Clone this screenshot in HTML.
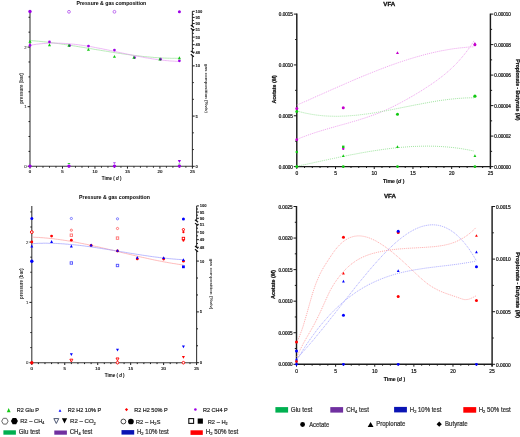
<!DOCTYPE html>
<html><head><meta charset="utf-8"><title>Pressure, gas composition and VFA</title>
<style>html,body{margin:0;padding:0;background:#fff;}body{width:520px;height:437px;overflow:hidden;}svg{display:block;filter:blur(0.35px);}text{fill:#111;stroke:#111;stroke-width:0.25px;}</style>
</head><body>
<svg width="520" height="437" viewBox="0 0 520 437" font-family="'Liberation Sans', Arial, sans-serif">
<rect width="520" height="437" fill="#fff"/>
<text x="111.40" y="4.50" font-size="5.2" text-anchor="middle" font-weight="bold" textLength="69.6" lengthAdjust="spacingAndGlyphs" style="stroke-width:0.05px">Pressure &amp; gas composition</text>
<line x1="30.00" y1="11.30" x2="30.00" y2="166.80" stroke="#3a3a3a" stroke-width="1.1"/>
<line x1="27.60" y1="166.30" x2="30.00" y2="166.30" stroke="#1a1a1a" stroke-width="1.0"/>
<line x1="28.50" y1="151.40" x2="30.00" y2="151.40" stroke="#1a1a1a" stroke-width="1.0"/>
<line x1="28.50" y1="136.49" x2="30.00" y2="136.49" stroke="#1a1a1a" stroke-width="1.0"/>
<line x1="28.50" y1="121.59" x2="30.00" y2="121.59" stroke="#1a1a1a" stroke-width="1.0"/>
<line x1="27.60" y1="106.68" x2="30.00" y2="106.68" stroke="#1a1a1a" stroke-width="1.0"/>
<line x1="28.50" y1="91.78" x2="30.00" y2="91.78" stroke="#1a1a1a" stroke-width="1.0"/>
<line x1="28.50" y1="76.88" x2="30.00" y2="76.88" stroke="#1a1a1a" stroke-width="1.0"/>
<line x1="28.50" y1="61.97" x2="30.00" y2="61.97" stroke="#1a1a1a" stroke-width="1.0"/>
<line x1="27.60" y1="47.07" x2="30.00" y2="47.07" stroke="#1a1a1a" stroke-width="1.0"/>
<line x1="28.50" y1="32.17" x2="30.00" y2="32.17" stroke="#1a1a1a" stroke-width="1.0"/>
<line x1="28.50" y1="17.26" x2="30.00" y2="17.26" stroke="#1a1a1a" stroke-width="1.0"/>
<text x="26.70" y="167.90" font-size="4.3" text-anchor="end" style="fill:#333;stroke:#333;stroke-width:0.1px">0</text>
<text x="26.70" y="108.28" font-size="4.3" text-anchor="end" style="fill:#333;stroke:#333;stroke-width:0.1px">1</text>
<text x="26.70" y="48.67" font-size="4.3" text-anchor="end" style="fill:#333;stroke:#333;stroke-width:0.1px">2</text>
<line x1="29.50" y1="166.30" x2="192.90" y2="166.30" stroke="#3a3a3a" stroke-width="1.1"/>
<line x1="30.00" y1="166.30" x2="30.00" y2="168.60" stroke="#1a1a1a" stroke-width="1.0"/>
<text x="30.00" y="173.00" font-size="4.3" text-anchor="middle" style="fill:#222;stroke:#222;stroke-width:0.2px">0</text>
<line x1="36.50" y1="166.30" x2="36.50" y2="167.70" stroke="#1a1a1a" stroke-width="1.0"/>
<line x1="42.99" y1="166.30" x2="42.99" y2="167.70" stroke="#1a1a1a" stroke-width="1.0"/>
<line x1="49.49" y1="166.30" x2="49.49" y2="167.70" stroke="#1a1a1a" stroke-width="1.0"/>
<line x1="55.98" y1="166.30" x2="55.98" y2="167.70" stroke="#1a1a1a" stroke-width="1.0"/>
<line x1="62.48" y1="166.30" x2="62.48" y2="168.60" stroke="#1a1a1a" stroke-width="1.0"/>
<text x="62.48" y="173.00" font-size="4.3" text-anchor="middle" style="fill:#222;stroke:#222;stroke-width:0.2px">5</text>
<line x1="68.98" y1="166.30" x2="68.98" y2="167.70" stroke="#1a1a1a" stroke-width="1.0"/>
<line x1="75.47" y1="166.30" x2="75.47" y2="167.70" stroke="#1a1a1a" stroke-width="1.0"/>
<line x1="81.97" y1="166.30" x2="81.97" y2="167.70" stroke="#1a1a1a" stroke-width="1.0"/>
<line x1="88.46" y1="166.30" x2="88.46" y2="167.70" stroke="#1a1a1a" stroke-width="1.0"/>
<line x1="94.96" y1="166.30" x2="94.96" y2="168.60" stroke="#1a1a1a" stroke-width="1.0"/>
<text x="94.96" y="173.00" font-size="4.3" text-anchor="middle" style="fill:#222;stroke:#222;stroke-width:0.2px">10</text>
<line x1="101.46" y1="166.30" x2="101.46" y2="167.70" stroke="#1a1a1a" stroke-width="1.0"/>
<line x1="107.95" y1="166.30" x2="107.95" y2="167.70" stroke="#1a1a1a" stroke-width="1.0"/>
<line x1="114.45" y1="166.30" x2="114.45" y2="167.70" stroke="#1a1a1a" stroke-width="1.0"/>
<line x1="120.94" y1="166.30" x2="120.94" y2="167.70" stroke="#1a1a1a" stroke-width="1.0"/>
<line x1="127.44" y1="166.30" x2="127.44" y2="168.60" stroke="#1a1a1a" stroke-width="1.0"/>
<text x="127.44" y="173.00" font-size="4.3" text-anchor="middle" style="fill:#222;stroke:#222;stroke-width:0.2px">15</text>
<line x1="133.94" y1="166.30" x2="133.94" y2="167.70" stroke="#1a1a1a" stroke-width="1.0"/>
<line x1="140.43" y1="166.30" x2="140.43" y2="167.70" stroke="#1a1a1a" stroke-width="1.0"/>
<line x1="146.93" y1="166.30" x2="146.93" y2="167.70" stroke="#1a1a1a" stroke-width="1.0"/>
<line x1="153.42" y1="166.30" x2="153.42" y2="167.70" stroke="#1a1a1a" stroke-width="1.0"/>
<line x1="159.92" y1="166.30" x2="159.92" y2="168.60" stroke="#1a1a1a" stroke-width="1.0"/>
<text x="159.92" y="173.00" font-size="4.3" text-anchor="middle" style="fill:#222;stroke:#222;stroke-width:0.2px">20</text>
<line x1="166.42" y1="166.30" x2="166.42" y2="167.70" stroke="#1a1a1a" stroke-width="1.0"/>
<line x1="172.91" y1="166.30" x2="172.91" y2="167.70" stroke="#1a1a1a" stroke-width="1.0"/>
<line x1="179.41" y1="166.30" x2="179.41" y2="167.70" stroke="#1a1a1a" stroke-width="1.0"/>
<line x1="185.90" y1="166.30" x2="185.90" y2="167.70" stroke="#1a1a1a" stroke-width="1.0"/>
<line x1="192.40" y1="166.30" x2="192.40" y2="168.60" stroke="#1a1a1a" stroke-width="1.0"/>
<text x="192.40" y="173.00" font-size="4.3" text-anchor="middle" style="fill:#222;stroke:#222;stroke-width:0.2px">25</text>
<line x1="192.40" y1="166.80" x2="192.40" y2="55.48" stroke="#3a3a3a" stroke-width="1.1"/>
<line x1="192.40" y1="52.22" x2="192.40" y2="29.59" stroke="#3a3a3a" stroke-width="1.1"/>
<line x1="192.40" y1="26.34" x2="192.40" y2="11.30" stroke="#3a3a3a" stroke-width="1.1"/>
<line x1="190.80" y1="54.18" x2="193.90" y2="56.68" stroke="#111" stroke-width="1.15"/>
<line x1="190.80" y1="50.92" x2="193.90" y2="53.42" stroke="#111" stroke-width="1.15"/>
<line x1="190.80" y1="28.29" x2="193.90" y2="30.79" stroke="#111" stroke-width="1.15"/>
<line x1="190.80" y1="25.04" x2="193.90" y2="27.54" stroke="#111" stroke-width="1.15"/>
<line x1="192.40" y1="166.30" x2="194.70" y2="166.30" stroke="#1a1a1a" stroke-width="1.0"/>
<line x1="192.40" y1="149.56" x2="193.80" y2="149.56" stroke="#1a1a1a" stroke-width="1.0"/>
<line x1="192.40" y1="132.82" x2="193.80" y2="132.82" stroke="#1a1a1a" stroke-width="1.0"/>
<line x1="192.40" y1="116.08" x2="194.70" y2="116.08" stroke="#1a1a1a" stroke-width="1.0"/>
<line x1="192.40" y1="99.34" x2="193.80" y2="99.34" stroke="#1a1a1a" stroke-width="1.0"/>
<line x1="192.40" y1="82.60" x2="193.80" y2="82.60" stroke="#1a1a1a" stroke-width="1.0"/>
<line x1="192.40" y1="65.86" x2="194.70" y2="65.86" stroke="#1a1a1a" stroke-width="1.0"/>
<line x1="192.40" y1="52.22" x2="194.70" y2="52.22" stroke="#1a1a1a" stroke-width="1.0"/>
<line x1="192.40" y1="48.45" x2="193.80" y2="48.45" stroke="#1a1a1a" stroke-width="1.0"/>
<line x1="192.40" y1="44.67" x2="194.70" y2="44.67" stroke="#1a1a1a" stroke-width="1.0"/>
<line x1="192.40" y1="40.90" x2="193.80" y2="40.90" stroke="#1a1a1a" stroke-width="1.0"/>
<line x1="192.40" y1="37.12" x2="194.70" y2="37.12" stroke="#1a1a1a" stroke-width="1.0"/>
<line x1="192.40" y1="33.35" x2="193.80" y2="33.35" stroke="#1a1a1a" stroke-width="1.0"/>
<line x1="192.40" y1="29.57" x2="194.70" y2="29.57" stroke="#1a1a1a" stroke-width="1.0"/>
<line x1="192.40" y1="23.55" x2="194.70" y2="23.55" stroke="#1a1a1a" stroke-width="1.0"/>
<line x1="192.40" y1="20.48" x2="193.80" y2="20.48" stroke="#1a1a1a" stroke-width="1.0"/>
<line x1="192.40" y1="17.42" x2="194.70" y2="17.42" stroke="#1a1a1a" stroke-width="1.0"/>
<line x1="192.40" y1="14.36" x2="193.80" y2="14.36" stroke="#1a1a1a" stroke-width="1.0"/>
<line x1="192.40" y1="11.30" x2="194.70" y2="11.30" stroke="#1a1a1a" stroke-width="1.0"/>
<text x="195.50" y="167.80" font-size="4.1" font-weight="bold" style="fill:#222;stroke:#222;stroke-width:0.08px">0</text>
<text x="195.50" y="117.58" font-size="4.1" font-weight="bold" style="fill:#222;stroke:#222;stroke-width:0.08px">5</text>
<text x="195.50" y="67.36" font-size="4.1" font-weight="bold" style="fill:#222;stroke:#222;stroke-width:0.08px">10</text>
<text x="195.50" y="53.72" font-size="4.1" font-weight="bold" style="fill:#222;stroke:#222;stroke-width:0.08px">48</text>
<text x="195.50" y="46.17" font-size="4.1" font-weight="bold" style="fill:#222;stroke:#222;stroke-width:0.08px">49</text>
<text x="195.50" y="38.62" font-size="4.1" font-weight="bold" style="fill:#222;stroke:#222;stroke-width:0.08px">50</text>
<text x="195.50" y="31.07" font-size="4.1" font-weight="bold" style="fill:#222;stroke:#222;stroke-width:0.08px">51</text>
<text x="195.50" y="25.05" font-size="4.1" font-weight="bold" style="fill:#222;stroke:#222;stroke-width:0.08px">90</text>
<text x="195.50" y="18.92" font-size="4.1" font-weight="bold" style="fill:#222;stroke:#222;stroke-width:0.08px">95</text>
<text x="195.50" y="12.80" font-size="4.1" font-weight="bold" style="fill:#222;stroke:#222;stroke-width:0.08px">100</text>
<text x="23.20" y="88.40" font-size="4.6" text-anchor="middle" font-weight="bold" textLength="30.5" lengthAdjust="spacingAndGlyphs" transform="rotate(-90 23.20 88.40)" style="fill:#3a3a3a;stroke:#3a3a3a;stroke-width:0.02px">pressure (bar)</text>
<text x="205.40" y="88.40" font-size="4.4" text-anchor="middle" font-weight="bold" textLength="49.3" lengthAdjust="spacingAndGlyphs" transform="rotate(90 205.40 88.40)" style="fill:#3a3a3a;stroke:#3a3a3a;stroke-width:0.02px">gas composition (%v/v)</text>
<text x="111.60" y="179.60" font-size="4.5" text-anchor="middle" font-weight="bold" textLength="19.6" lengthAdjust="spacingAndGlyphs" style="stroke-width:0.05px">Time ( <tspan font-style="italic">d</tspan> )</text>
<path d="M30.0,40.6 L31.7,40.7 L33.4,40.8 L35.0,40.9 L36.7,41.1 L38.4,41.2 L40.1,41.4 L41.8,41.6 L43.4,41.8 L45.1,41.9 L46.8,42.1 L48.5,42.3 L50.2,42.5 L51.8,42.7 L53.5,42.9 L55.2,43.2 L56.9,43.4 L58.6,43.6 L60.2,43.8 L61.9,44.1 L63.6,44.3 L65.3,44.6 L67.0,44.8 L68.6,45.1 L70.3,45.3 L72.0,45.6 L73.7,45.9 L75.4,46.1 L77.0,46.4 L78.7,46.7 L80.4,47.0 L82.1,47.2 L83.8,47.5 L85.4,47.8 L87.1,48.1 L88.8,48.3 L90.5,48.6 L92.2,48.9 L93.8,49.2 L95.5,49.5 L97.2,49.8 L98.9,50.0 L100.6,50.3 L102.2,50.6 L103.9,50.9 L105.6,51.1 L107.3,51.4 L108.9,51.7 L110.6,52.0 L112.3,52.2 L114.0,52.5 L115.7,52.8 L117.3,53.0 L119.0,53.3 L120.7,53.5 L122.4,53.8 L124.1,54.0 L125.7,54.3 L127.4,54.5 L129.1,54.7 L130.8,55.0 L132.5,55.2 L134.1,55.4 L135.8,55.6 L137.5,55.8 L139.2,56.0 L140.9,56.2 L142.5,56.4 L144.2,56.6 L145.9,56.7 L147.6,56.9 L149.3,57.0 L150.9,57.2 L152.6,57.3 L154.3,57.5 L156.0,57.6 L157.7,57.7 L159.3,57.8 L161.0,57.9 L162.7,58.0 L164.4,58.1 L166.1,58.1 L167.7,58.2 L169.4,58.2 L171.1,58.3 L172.8,58.3 L174.5,58.3 L176.1,58.3 L177.8,58.3 L179.5,58.3" fill="none" stroke="#9be39b" stroke-width="0.7"/>
<path d="M30.0,45.3 L31.7,45.0 L33.4,44.7 L35.0,44.5 L36.7,44.2 L38.4,44.0 L40.1,43.8 L41.8,43.7 L43.4,43.5 L45.1,43.4 L46.8,43.3 L48.5,43.2 L50.2,43.2 L51.8,43.1 L53.5,43.1 L55.2,43.1 L56.9,43.1 L58.6,43.2 L60.2,43.2 L61.9,43.3 L63.6,43.4 L65.3,43.5 L67.0,43.6 L68.6,43.7 L70.3,43.9 L72.0,44.1 L73.7,44.2 L75.4,44.4 L77.0,44.6 L78.7,44.8 L80.4,45.1 L82.1,45.3 L83.8,45.6 L85.4,45.8 L87.1,46.1 L88.8,46.4 L90.5,46.6 L92.2,46.9 L93.8,47.2 L95.5,47.6 L97.2,47.9 L98.9,48.2 L100.6,48.5 L102.2,48.8 L103.9,49.2 L105.6,49.5 L107.3,49.9 L108.9,50.2 L110.6,50.6 L112.3,50.9 L114.0,51.3 L115.7,51.6 L117.3,52.0 L119.0,52.4 L120.7,52.7 L122.4,53.1 L124.1,53.4 L125.7,53.8 L127.4,54.1 L129.1,54.5 L130.8,54.8 L132.5,55.2 L134.1,55.5 L135.8,55.9 L137.5,56.2 L139.2,56.5 L140.9,56.8 L142.5,57.1 L144.2,57.5 L145.9,57.8 L147.6,58.0 L149.3,58.3 L150.9,58.6 L152.6,58.9 L154.3,59.1 L156.0,59.4 L157.7,59.6 L159.3,59.8 L161.0,60.0 L162.7,60.2 L164.4,60.4 L166.1,60.6 L167.7,60.7 L169.4,60.9 L171.1,61.0 L172.8,61.1 L174.5,61.2 L176.1,61.3 L177.8,61.4 L179.5,61.4" fill="none" stroke="#e79af2" stroke-width="0.7"/>
<circle cx="30.00" cy="45.40" r="1.35" fill="#9e00e6"/>
<circle cx="49.49" cy="41.90" r="1.35" fill="#9e00e6"/>
<circle cx="69.58" cy="45.60" r="1.35" fill="#9e00e6"/>
<circle cx="88.46" cy="46.10" r="1.35" fill="#9e00e6"/>
<circle cx="114.45" cy="50.10" r="1.35" fill="#9e00e6"/>
<circle cx="134.54" cy="57.60" r="1.35" fill="#9e00e6"/>
<circle cx="160.52" cy="59.20" r="1.35" fill="#9e00e6"/>
<circle cx="179.41" cy="60.80" r="1.35" fill="#9e00e6"/>
<polygon points="28.45,42.77 31.55,42.77 30.00,39.83" fill="#12c812"/>
<polygon points="47.94,46.17 51.04,46.17 49.49,43.23" fill="#12c812"/>
<polygon points="67.43,46.67 70.53,46.67 68.98,43.73" fill="#12c812"/>
<polygon points="86.91,50.87 90.01,50.87 88.46,47.93" fill="#12c812"/>
<polygon points="112.90,57.87 116.00,57.87 114.45,54.93" fill="#12c812"/>
<polygon points="132.39,58.77 135.49,58.77 133.94,55.83" fill="#12c812"/>
<polygon points="158.37,60.47 161.47,60.47 159.92,57.53" fill="#12c812"/>
<polygon points="177.86,59.27 180.96,59.27 179.41,56.33" fill="#12c812"/>
<circle cx="69.48" cy="45.80" r="0.6" fill="#2a3a6a"/>
<circle cx="134.44" cy="57.90" r="0.6" fill="#2a3a6a"/>
<circle cx="160.42" cy="59.60" r="0.6" fill="#2a3a6a"/>
<circle cx="30.00" cy="11.50" r="1.7" fill="#9e00e6"/>
<circle cx="179.41" cy="11.80" r="1.5" fill="#9e00e6"/>
<circle cx="68.98" cy="11.80" r="1.4" fill="#fff" stroke="#b860ee" stroke-width="0.9"/>
<circle cx="114.45" cy="11.80" r="1.4" fill="#fff" stroke="#b860ee" stroke-width="0.9"/>
<line x1="67.78" y1="163.60" x2="70.18" y2="163.60" stroke="#12c812" stroke-width="0.9"/>
<line x1="178.41" y1="164.00" x2="180.41" y2="164.00" stroke="#12c812" stroke-width="0.7"/>
<polygon points="112.95,161.88 115.95,161.88 114.45,164.73" fill="#c070f0"/>
<circle cx="30.00" cy="166.10" r="1.7" fill="#9e00e6"/>
<circle cx="68.98" cy="166.10" r="1.7" fill="#9e00e6"/>
<circle cx="114.45" cy="166.10" r="1.7" fill="#9e00e6"/>
<circle cx="179.41" cy="166.10" r="1.7" fill="#9e00e6"/>
<polygon points="177.81,159.88 181.01,159.88 179.41,162.92" fill="#9e00e6"/>
<text x="114.50" y="199.00" font-size="5.2" text-anchor="middle" font-weight="bold" textLength="70.8" lengthAdjust="spacingAndGlyphs" style="stroke-width:0.05px">Pressure &amp; gas composition</text>
<line x1="31.80" y1="205.90" x2="31.80" y2="363.20" stroke="#3a3a3a" stroke-width="1.1"/>
<line x1="29.40" y1="362.70" x2="31.80" y2="362.70" stroke="#1a1a1a" stroke-width="1.0"/>
<line x1="30.30" y1="347.62" x2="31.80" y2="347.62" stroke="#1a1a1a" stroke-width="1.0"/>
<line x1="30.30" y1="332.55" x2="31.80" y2="332.55" stroke="#1a1a1a" stroke-width="1.0"/>
<line x1="30.30" y1="317.47" x2="31.80" y2="317.47" stroke="#1a1a1a" stroke-width="1.0"/>
<line x1="29.40" y1="302.39" x2="31.80" y2="302.39" stroke="#1a1a1a" stroke-width="1.0"/>
<line x1="30.30" y1="287.32" x2="31.80" y2="287.32" stroke="#1a1a1a" stroke-width="1.0"/>
<line x1="30.30" y1="272.24" x2="31.80" y2="272.24" stroke="#1a1a1a" stroke-width="1.0"/>
<line x1="30.30" y1="257.16" x2="31.80" y2="257.16" stroke="#1a1a1a" stroke-width="1.0"/>
<line x1="29.40" y1="242.08" x2="31.80" y2="242.08" stroke="#1a1a1a" stroke-width="1.0"/>
<line x1="30.30" y1="227.01" x2="31.80" y2="227.01" stroke="#1a1a1a" stroke-width="1.0"/>
<line x1="30.30" y1="211.93" x2="31.80" y2="211.93" stroke="#1a1a1a" stroke-width="1.0"/>
<text x="28.50" y="364.30" font-size="4.3" text-anchor="end" style="fill:#333;stroke:#333;stroke-width:0.1px">0</text>
<text x="28.50" y="303.99" font-size="4.3" text-anchor="end" style="fill:#333;stroke:#333;stroke-width:0.1px">1</text>
<text x="28.50" y="243.68" font-size="4.3" text-anchor="end" style="fill:#333;stroke:#333;stroke-width:0.1px">2</text>
<line x1="31.30" y1="362.70" x2="197.10" y2="362.70" stroke="#3a3a3a" stroke-width="1.1"/>
<line x1="31.80" y1="362.70" x2="31.80" y2="365.00" stroke="#1a1a1a" stroke-width="1.0"/>
<text x="31.80" y="369.80" font-size="4.3" text-anchor="middle" style="fill:#222;stroke:#222;stroke-width:0.2px">0</text>
<line x1="38.39" y1="362.70" x2="38.39" y2="364.10" stroke="#1a1a1a" stroke-width="1.0"/>
<line x1="44.98" y1="362.70" x2="44.98" y2="364.10" stroke="#1a1a1a" stroke-width="1.0"/>
<line x1="51.58" y1="362.70" x2="51.58" y2="364.10" stroke="#1a1a1a" stroke-width="1.0"/>
<line x1="58.17" y1="362.70" x2="58.17" y2="364.10" stroke="#1a1a1a" stroke-width="1.0"/>
<line x1="64.76" y1="362.70" x2="64.76" y2="365.00" stroke="#1a1a1a" stroke-width="1.0"/>
<text x="64.76" y="369.80" font-size="4.3" text-anchor="middle" style="fill:#222;stroke:#222;stroke-width:0.2px">5</text>
<line x1="71.35" y1="362.70" x2="71.35" y2="364.10" stroke="#1a1a1a" stroke-width="1.0"/>
<line x1="77.94" y1="362.70" x2="77.94" y2="364.10" stroke="#1a1a1a" stroke-width="1.0"/>
<line x1="84.54" y1="362.70" x2="84.54" y2="364.10" stroke="#1a1a1a" stroke-width="1.0"/>
<line x1="91.13" y1="362.70" x2="91.13" y2="364.10" stroke="#1a1a1a" stroke-width="1.0"/>
<line x1="97.72" y1="362.70" x2="97.72" y2="365.00" stroke="#1a1a1a" stroke-width="1.0"/>
<text x="97.72" y="369.80" font-size="4.3" text-anchor="middle" style="fill:#222;stroke:#222;stroke-width:0.2px">10</text>
<line x1="104.31" y1="362.70" x2="104.31" y2="364.10" stroke="#1a1a1a" stroke-width="1.0"/>
<line x1="110.90" y1="362.70" x2="110.90" y2="364.10" stroke="#1a1a1a" stroke-width="1.0"/>
<line x1="117.50" y1="362.70" x2="117.50" y2="364.10" stroke="#1a1a1a" stroke-width="1.0"/>
<line x1="124.09" y1="362.70" x2="124.09" y2="364.10" stroke="#1a1a1a" stroke-width="1.0"/>
<line x1="130.68" y1="362.70" x2="130.68" y2="365.00" stroke="#1a1a1a" stroke-width="1.0"/>
<text x="130.68" y="369.80" font-size="4.3" text-anchor="middle" style="fill:#222;stroke:#222;stroke-width:0.2px">15</text>
<line x1="137.27" y1="362.70" x2="137.27" y2="364.10" stroke="#1a1a1a" stroke-width="1.0"/>
<line x1="143.86" y1="362.70" x2="143.86" y2="364.10" stroke="#1a1a1a" stroke-width="1.0"/>
<line x1="150.46" y1="362.70" x2="150.46" y2="364.10" stroke="#1a1a1a" stroke-width="1.0"/>
<line x1="157.05" y1="362.70" x2="157.05" y2="364.10" stroke="#1a1a1a" stroke-width="1.0"/>
<line x1="163.64" y1="362.70" x2="163.64" y2="365.00" stroke="#1a1a1a" stroke-width="1.0"/>
<text x="163.64" y="369.80" font-size="4.3" text-anchor="middle" style="fill:#222;stroke:#222;stroke-width:0.2px">20</text>
<line x1="170.23" y1="362.70" x2="170.23" y2="364.10" stroke="#1a1a1a" stroke-width="1.0"/>
<line x1="176.82" y1="362.70" x2="176.82" y2="364.10" stroke="#1a1a1a" stroke-width="1.0"/>
<line x1="183.42" y1="362.70" x2="183.42" y2="364.10" stroke="#1a1a1a" stroke-width="1.0"/>
<line x1="190.01" y1="362.70" x2="190.01" y2="364.10" stroke="#1a1a1a" stroke-width="1.0"/>
<line x1="196.60" y1="362.70" x2="196.60" y2="365.00" stroke="#1a1a1a" stroke-width="1.0"/>
<text x="196.60" y="369.80" font-size="4.3" text-anchor="middle" style="fill:#222;stroke:#222;stroke-width:0.2px">25</text>
<line x1="196.60" y1="363.20" x2="196.60" y2="250.59" stroke="#3a3a3a" stroke-width="1.1"/>
<line x1="196.60" y1="247.30" x2="196.60" y2="224.40" stroke="#3a3a3a" stroke-width="1.1"/>
<line x1="196.60" y1="221.11" x2="196.60" y2="205.90" stroke="#3a3a3a" stroke-width="1.1"/>
<line x1="195.00" y1="249.29" x2="198.10" y2="251.79" stroke="#111" stroke-width="1.15"/>
<line x1="195.00" y1="246.00" x2="198.10" y2="248.50" stroke="#111" stroke-width="1.15"/>
<line x1="195.00" y1="223.10" x2="198.10" y2="225.60" stroke="#111" stroke-width="1.15"/>
<line x1="195.00" y1="219.81" x2="198.10" y2="222.31" stroke="#111" stroke-width="1.15"/>
<line x1="196.60" y1="362.70" x2="198.90" y2="362.70" stroke="#1a1a1a" stroke-width="1.0"/>
<line x1="196.60" y1="345.77" x2="198.00" y2="345.77" stroke="#1a1a1a" stroke-width="1.0"/>
<line x1="196.60" y1="328.83" x2="198.00" y2="328.83" stroke="#1a1a1a" stroke-width="1.0"/>
<line x1="196.60" y1="311.90" x2="198.90" y2="311.90" stroke="#1a1a1a" stroke-width="1.0"/>
<line x1="196.60" y1="294.96" x2="198.00" y2="294.96" stroke="#1a1a1a" stroke-width="1.0"/>
<line x1="196.60" y1="278.03" x2="198.00" y2="278.03" stroke="#1a1a1a" stroke-width="1.0"/>
<line x1="196.60" y1="261.09" x2="198.90" y2="261.09" stroke="#1a1a1a" stroke-width="1.0"/>
<line x1="196.60" y1="247.30" x2="198.90" y2="247.30" stroke="#1a1a1a" stroke-width="1.0"/>
<line x1="196.60" y1="243.48" x2="198.00" y2="243.48" stroke="#1a1a1a" stroke-width="1.0"/>
<line x1="196.60" y1="239.66" x2="198.90" y2="239.66" stroke="#1a1a1a" stroke-width="1.0"/>
<line x1="196.60" y1="235.84" x2="198.00" y2="235.84" stroke="#1a1a1a" stroke-width="1.0"/>
<line x1="196.60" y1="232.02" x2="198.90" y2="232.02" stroke="#1a1a1a" stroke-width="1.0"/>
<line x1="196.60" y1="228.20" x2="198.00" y2="228.20" stroke="#1a1a1a" stroke-width="1.0"/>
<line x1="196.60" y1="224.39" x2="198.90" y2="224.39" stroke="#1a1a1a" stroke-width="1.0"/>
<line x1="196.60" y1="218.29" x2="198.90" y2="218.29" stroke="#1a1a1a" stroke-width="1.0"/>
<line x1="196.60" y1="215.19" x2="198.00" y2="215.19" stroke="#1a1a1a" stroke-width="1.0"/>
<line x1="196.60" y1="212.09" x2="198.90" y2="212.09" stroke="#1a1a1a" stroke-width="1.0"/>
<line x1="196.60" y1="209.00" x2="198.00" y2="209.00" stroke="#1a1a1a" stroke-width="1.0"/>
<line x1="196.60" y1="205.90" x2="198.90" y2="205.90" stroke="#1a1a1a" stroke-width="1.0"/>
<text x="199.70" y="364.20" font-size="4.1" font-weight="bold" style="fill:#222;stroke:#222;stroke-width:0.08px">0</text>
<text x="199.70" y="313.40" font-size="4.1" font-weight="bold" style="fill:#222;stroke:#222;stroke-width:0.08px">5</text>
<text x="199.70" y="262.59" font-size="4.1" font-weight="bold" style="fill:#222;stroke:#222;stroke-width:0.08px">10</text>
<text x="199.70" y="248.80" font-size="4.1" font-weight="bold" style="fill:#222;stroke:#222;stroke-width:0.08px">48</text>
<text x="199.70" y="241.16" font-size="4.1" font-weight="bold" style="fill:#222;stroke:#222;stroke-width:0.08px">49</text>
<text x="199.70" y="233.52" font-size="4.1" font-weight="bold" style="fill:#222;stroke:#222;stroke-width:0.08px">50</text>
<text x="199.70" y="225.89" font-size="4.1" font-weight="bold" style="fill:#222;stroke:#222;stroke-width:0.08px">51</text>
<text x="199.70" y="219.79" font-size="4.1" font-weight="bold" style="fill:#222;stroke:#222;stroke-width:0.08px">90</text>
<text x="199.70" y="213.59" font-size="4.1" font-weight="bold" style="fill:#222;stroke:#222;stroke-width:0.08px">95</text>
<text x="199.70" y="207.40" font-size="4.1" font-weight="bold" style="fill:#222;stroke:#222;stroke-width:0.08px">100</text>
<text x="23.00" y="283.80" font-size="4.6" text-anchor="middle" font-weight="bold" textLength="30.5" lengthAdjust="spacingAndGlyphs" transform="rotate(-90 23.00 283.80)" style="fill:#3a3a3a;stroke:#3a3a3a;stroke-width:0.02px">pressure (bar)</text>
<text x="210.20" y="283.90" font-size="4.4" text-anchor="middle" font-weight="bold" textLength="51" lengthAdjust="spacingAndGlyphs" transform="rotate(90 210.20 283.90)" style="fill:#444;stroke:#444;stroke-width:0.02px">gas composition (%v/v)</text>
<text x="114.70" y="376.70" font-size="4.5" text-anchor="middle" font-weight="bold" textLength="19.8" lengthAdjust="spacingAndGlyphs" style="stroke-width:0.05px">Time ( <tspan font-style="italic">d</tspan> )</text>
<path d="M31.8,237.1 L33.5,237.2 L35.2,237.3 L36.9,237.4 L38.6,237.4 L40.3,237.6 L42.0,237.7 L43.7,237.8 L45.4,238.0 L47.1,238.1 L48.8,238.3 L50.5,238.5 L52.2,238.6 L53.9,238.8 L55.6,239.1 L57.4,239.3 L59.1,239.5 L60.8,239.8 L62.5,240.0 L64.2,240.3 L65.9,240.5 L67.6,240.8 L69.3,241.1 L71.0,241.4 L72.7,241.7 L74.4,242.0 L76.1,242.3 L77.8,242.6 L79.5,243.0 L81.2,243.3 L82.9,243.6 L84.6,244.0 L86.3,244.3 L88.0,244.7 L89.7,245.1 L91.4,245.4 L93.1,245.8 L94.8,246.2 L96.5,246.6 L98.2,246.9 L99.9,247.3 L101.6,247.7 L103.3,248.1 L105.0,248.5 L106.7,248.9 L108.5,249.3 L110.2,249.7 L111.9,250.1 L113.6,250.5 L115.3,250.9 L117.0,251.3 L118.7,251.7 L120.4,252.2 L122.1,252.6 L123.8,253.0 L125.5,253.4 L127.2,253.8 L128.9,254.2 L130.6,254.6 L132.3,255.0 L134.0,255.4 L135.7,255.8 L137.4,256.2 L139.1,256.6 L140.8,257.0 L142.5,257.4 L144.2,257.7 L145.9,258.1 L147.6,258.5 L149.3,258.9 L151.0,259.2 L152.7,259.6 L154.4,260.0 L156.1,260.3 L157.8,260.7 L159.6,261.0 L161.3,261.3 L163.0,261.7 L164.7,262.0 L166.4,262.3 L168.1,262.6 L169.8,262.9 L171.5,263.2 L173.2,263.5 L174.9,263.7 L176.6,264.0 L178.3,264.3 L180.0,264.5 L181.7,264.8 L183.4,265.0" fill="none" stroke="#ff9d9d" stroke-width="0.7"/>
<path d="M31.8,243.7 L33.5,243.6 L35.2,243.5 L36.9,243.4 L38.6,243.3 L40.3,243.3 L42.0,243.3 L43.7,243.2 L45.4,243.2 L47.1,243.2 L48.8,243.3 L50.5,243.3 L52.2,243.3 L53.9,243.4 L55.6,243.4 L57.4,243.5 L59.1,243.6 L60.8,243.7 L62.5,243.8 L64.2,243.9 L65.9,244.1 L67.6,244.2 L69.3,244.4 L71.0,244.5 L72.7,244.7 L74.4,244.8 L76.1,245.0 L77.8,245.2 L79.5,245.4 L81.2,245.6 L82.9,245.8 L84.6,246.0 L86.3,246.3 L88.0,246.5 L89.7,246.7 L91.4,247.0 L93.1,247.2 L94.8,247.5 L96.5,247.7 L98.2,248.0 L99.9,248.2 L101.6,248.5 L103.3,248.8 L105.0,249.0 L106.7,249.3 L108.5,249.6 L110.2,249.9 L111.9,250.1 L113.6,250.4 L115.3,250.7 L117.0,251.0 L118.7,251.3 L120.4,251.6 L122.1,251.9 L123.8,252.1 L125.5,252.4 L127.2,252.7 L128.9,253.0 L130.6,253.3 L132.3,253.5 L134.0,253.8 L135.7,254.1 L137.4,254.4 L139.1,254.6 L140.8,254.9 L142.5,255.2 L144.2,255.4 L145.9,255.7 L147.6,255.9 L149.3,256.2 L151.0,256.4 L152.7,256.7 L154.4,256.9 L156.1,257.1 L157.8,257.3 L159.6,257.6 L161.3,257.8 L163.0,258.0 L164.7,258.2 L166.4,258.3 L168.1,258.5 L169.8,258.7 L171.5,258.8 L173.2,259.0 L174.9,259.1 L176.6,259.3 L178.3,259.4 L180.0,259.5 L181.7,259.6 L183.4,259.7" fill="none" stroke="#9d9dff" stroke-width="0.7"/>
<circle cx="31.80" cy="242.00" r="1.4" fill="#ff0000"/>
<circle cx="51.58" cy="236.10" r="1.4" fill="#ff0000"/>
<circle cx="71.35" cy="240.20" r="1.4" fill="#ff0000"/>
<circle cx="91.13" cy="245.30" r="1.4" fill="#ff0000"/>
<circle cx="117.50" cy="251.00" r="1.4" fill="#ff0000"/>
<circle cx="137.27" cy="258.90" r="1.4" fill="#ff0000"/>
<circle cx="163.64" cy="259.00" r="1.4" fill="#ff0000"/>
<circle cx="183.42" cy="261.20" r="1.4" fill="#ff0000"/>
<polygon points="30.35,247.38 33.25,247.38 31.80,244.62" fill="#0000ff"/>
<polygon points="50.13,242.88 53.03,242.88 51.58,240.12" fill="#0000ff"/>
<polygon points="69.90,247.38 72.80,247.38 71.35,244.62" fill="#0000ff"/>
<polygon points="89.68,246.38 92.58,246.38 91.13,243.62" fill="#0000ff"/>
<polygon points="116.05,251.68 118.95,251.68 117.50,248.92" fill="#0000ff"/>
<polygon points="135.82,258.78 138.72,258.78 137.27,256.02" fill="#0000ff"/>
<polygon points="162.19,259.08 165.09,259.08 163.64,256.32" fill="#0000ff"/>
<polygon points="181.97,260.98 184.87,260.98 183.42,258.22" fill="#0000ff"/>
<circle cx="31.80" cy="218.40" r="1.5" fill="#0000ff"/>
<circle cx="31.80" cy="232.10" r="1.4" fill="#fff" stroke="#ff0000" stroke-width="1.0"/>
<circle cx="31.80" cy="261.30" r="1.7" fill="#0000ff"/>
<circle cx="71.35" cy="218.50" r="1.1" fill="#fff" stroke="#7a7aff" stroke-width="1.0"/>
<circle cx="117.50" cy="218.80" r="1.1" fill="#fff" stroke="#7a7aff" stroke-width="1.0"/>
<circle cx="183.42" cy="219.00" r="1.5" fill="#0000ff"/>
<circle cx="71.35" cy="230.20" r="1.1" fill="#fff" stroke="#ff7070" stroke-width="1.0"/>
<rect x="70.15" y="234.00" width="2.4" height="2.4" fill="#fff" stroke="#ff7070" stroke-width="0.9"/>
<circle cx="117.50" cy="228.50" r="1.1" fill="#fff" stroke="#ff7070" stroke-width="1.0"/>
<rect x="116.30" y="236.90" width="2.4" height="2.4" fill="#fff" stroke="#ff7070" stroke-width="0.9"/>
<circle cx="183.42" cy="229.60" r="1.1" fill="#fff" stroke="#ff0000" stroke-width="1.0"/>
<circle cx="183.42" cy="232.20" r="1.1" fill="#ff0000"/>
<rect x="182.22" y="237.30" width="2.4" height="2.4" fill="#fff" stroke="#ff0000" stroke-width="0.9"/>
<circle cx="183.42" cy="240.60" r="1.1" fill="#ff0000"/>
<rect x="70.15" y="261.80" width="2.4" height="2.4" fill="#fff" stroke="#5050ff" stroke-width="0.9"/>
<rect x="116.30" y="264.30" width="2.4" height="2.4" fill="#fff" stroke="#5050ff" stroke-width="0.9"/>
<rect x="182.02" y="265.40" width="2.8" height="2.8" fill="#0000ff"/>
<polygon points="69.85,353.18 72.85,353.18 71.35,356.03" fill="#0000ff"/>
<polygon points="116.00,348.77 119.00,348.77 117.50,351.62" fill="#0000ff"/>
<polygon points="181.92,345.47 184.92,345.47 183.42,348.32" fill="#0000ff"/>
<polygon points="181.92,355.88 184.92,355.88 183.42,358.73" fill="#ff0000"/>
<circle cx="117.50" cy="362.70" r="1.3" fill="#fff" stroke="#ff0000" stroke-width="0.9"/>
<circle cx="183.42" cy="362.70" r="1.3" fill="#fff" stroke="#ff0000" stroke-width="0.9"/>
<polygon points="69.85,359.18 72.85,359.18 71.35,362.03" fill="#fff" stroke="#ff0000" stroke-width="0.9" stroke-linejoin="round"/>
<polygon points="116.00,357.97 119.00,357.97 117.50,360.82" fill="#fff" stroke="#ff0000" stroke-width="0.9" stroke-linejoin="round"/>
<circle cx="31.80" cy="362.70" r="1.7" fill="#ff0000"/>
<text x="389.30" y="5.50" font-size="6.2" text-anchor="middle" font-weight="bold" textLength="12.0" lengthAdjust="spacingAndGlyphs" style="stroke-width:0.3px">VFA</text>
<line x1="296.80" y1="13.60" x2="296.80" y2="167.10" stroke="#1c1c1c" stroke-width="1.45"/>
<line x1="490.40" y1="13.60" x2="490.40" y2="168.80" stroke="#1c1c1c" stroke-width="1.45"/>
<line x1="296.30" y1="166.60" x2="490.40" y2="166.60" stroke="#1c1c1c" stroke-width="1.45"/>
<line x1="293.80" y1="166.60" x2="296.80" y2="166.60" stroke="#1a1a1a" stroke-width="1.0"/>
<line x1="295.10" y1="141.18" x2="296.80" y2="141.18" stroke="#1a1a1a" stroke-width="1.0"/>
<line x1="293.80" y1="115.77" x2="296.80" y2="115.77" stroke="#1a1a1a" stroke-width="1.0"/>
<line x1="295.10" y1="90.35" x2="296.80" y2="90.35" stroke="#1a1a1a" stroke-width="1.0"/>
<line x1="293.80" y1="64.93" x2="296.80" y2="64.93" stroke="#1a1a1a" stroke-width="1.0"/>
<line x1="295.10" y1="39.52" x2="296.80" y2="39.52" stroke="#1a1a1a" stroke-width="1.0"/>
<line x1="293.80" y1="14.10" x2="296.80" y2="14.10" stroke="#1a1a1a" stroke-width="1.0"/>
<text x="292.90" y="168.70" font-size="4.6" text-anchor="end" style="fill:#1a1a1a;stroke:#1a1a1a;stroke-width:0.24px">0.0000</text>
<text x="292.90" y="117.87" font-size="4.6" text-anchor="end" style="fill:#1a1a1a;stroke:#1a1a1a;stroke-width:0.24px">0.0005</text>
<text x="292.90" y="67.03" font-size="4.6" text-anchor="end" style="fill:#1a1a1a;stroke:#1a1a1a;stroke-width:0.24px">0.0010</text>
<text x="292.90" y="16.20" font-size="4.6" text-anchor="end" style="fill:#1a1a1a;stroke:#1a1a1a;stroke-width:0.24px">0.0015</text>
<line x1="490.40" y1="166.60" x2="493.40" y2="166.60" stroke="#1a1a1a" stroke-width="1.0"/>
<line x1="490.40" y1="151.35" x2="492.10" y2="151.35" stroke="#1a1a1a" stroke-width="1.0"/>
<line x1="490.40" y1="136.10" x2="493.40" y2="136.10" stroke="#1a1a1a" stroke-width="1.0"/>
<line x1="490.40" y1="120.85" x2="492.10" y2="120.85" stroke="#1a1a1a" stroke-width="1.0"/>
<line x1="490.40" y1="105.60" x2="493.40" y2="105.60" stroke="#1a1a1a" stroke-width="1.0"/>
<line x1="490.40" y1="90.35" x2="492.10" y2="90.35" stroke="#1a1a1a" stroke-width="1.0"/>
<line x1="490.40" y1="75.10" x2="493.40" y2="75.10" stroke="#1a1a1a" stroke-width="1.0"/>
<line x1="490.40" y1="59.85" x2="492.10" y2="59.85" stroke="#1a1a1a" stroke-width="1.0"/>
<line x1="490.40" y1="44.60" x2="493.40" y2="44.60" stroke="#1a1a1a" stroke-width="1.0"/>
<line x1="490.40" y1="29.35" x2="492.10" y2="29.35" stroke="#1a1a1a" stroke-width="1.0"/>
<line x1="490.40" y1="14.10" x2="493.40" y2="14.10" stroke="#1a1a1a" stroke-width="1.0"/>
<text x="494.30" y="168.80" font-size="4.6" style="fill:#1a1a1a;stroke:#1a1a1a;stroke-width:0.24px">0.00000</text>
<text x="494.30" y="138.30" font-size="4.6" style="fill:#1a1a1a;stroke:#1a1a1a;stroke-width:0.24px">0.00002</text>
<text x="494.30" y="107.80" font-size="4.6" style="fill:#1a1a1a;stroke:#1a1a1a;stroke-width:0.24px">0.00004</text>
<text x="494.30" y="77.30" font-size="4.6" style="fill:#1a1a1a;stroke:#1a1a1a;stroke-width:0.24px">0.00006</text>
<text x="494.30" y="46.80" font-size="4.6" style="fill:#1a1a1a;stroke:#1a1a1a;stroke-width:0.24px">0.00008</text>
<text x="494.30" y="16.30" font-size="4.6" style="fill:#1a1a1a;stroke:#1a1a1a;stroke-width:0.24px">0.00010</text>
<line x1="296.80" y1="166.60" x2="296.80" y2="169.00" stroke="#1a1a1a" stroke-width="1.0"/>
<text x="296.80" y="175.20" font-size="4.9" text-anchor="middle" style="stroke-width:0.2px">0</text>
<line x1="304.54" y1="166.60" x2="304.54" y2="168.00" stroke="#1a1a1a" stroke-width="1.0"/>
<line x1="312.29" y1="166.60" x2="312.29" y2="168.00" stroke="#1a1a1a" stroke-width="1.0"/>
<line x1="320.03" y1="166.60" x2="320.03" y2="168.00" stroke="#1a1a1a" stroke-width="1.0"/>
<line x1="327.78" y1="166.60" x2="327.78" y2="168.00" stroke="#1a1a1a" stroke-width="1.0"/>
<line x1="335.52" y1="166.60" x2="335.52" y2="169.00" stroke="#1a1a1a" stroke-width="1.0"/>
<text x="335.52" y="175.20" font-size="4.9" text-anchor="middle" style="stroke-width:0.2px">5</text>
<line x1="343.26" y1="166.60" x2="343.26" y2="168.00" stroke="#1a1a1a" stroke-width="1.0"/>
<line x1="351.01" y1="166.60" x2="351.01" y2="168.00" stroke="#1a1a1a" stroke-width="1.0"/>
<line x1="358.75" y1="166.60" x2="358.75" y2="168.00" stroke="#1a1a1a" stroke-width="1.0"/>
<line x1="366.50" y1="166.60" x2="366.50" y2="168.00" stroke="#1a1a1a" stroke-width="1.0"/>
<line x1="374.24" y1="166.60" x2="374.24" y2="169.00" stroke="#1a1a1a" stroke-width="1.0"/>
<text x="374.24" y="175.20" font-size="4.9" text-anchor="middle" style="stroke-width:0.2px">10</text>
<line x1="381.98" y1="166.60" x2="381.98" y2="168.00" stroke="#1a1a1a" stroke-width="1.0"/>
<line x1="389.73" y1="166.60" x2="389.73" y2="168.00" stroke="#1a1a1a" stroke-width="1.0"/>
<line x1="397.47" y1="166.60" x2="397.47" y2="168.00" stroke="#1a1a1a" stroke-width="1.0"/>
<line x1="405.22" y1="166.60" x2="405.22" y2="168.00" stroke="#1a1a1a" stroke-width="1.0"/>
<line x1="412.96" y1="166.60" x2="412.96" y2="169.00" stroke="#1a1a1a" stroke-width="1.0"/>
<text x="412.96" y="175.20" font-size="4.9" text-anchor="middle" style="stroke-width:0.2px">15</text>
<line x1="420.70" y1="166.60" x2="420.70" y2="168.00" stroke="#1a1a1a" stroke-width="1.0"/>
<line x1="428.45" y1="166.60" x2="428.45" y2="168.00" stroke="#1a1a1a" stroke-width="1.0"/>
<line x1="436.19" y1="166.60" x2="436.19" y2="168.00" stroke="#1a1a1a" stroke-width="1.0"/>
<line x1="443.94" y1="166.60" x2="443.94" y2="168.00" stroke="#1a1a1a" stroke-width="1.0"/>
<line x1="451.68" y1="166.60" x2="451.68" y2="169.00" stroke="#1a1a1a" stroke-width="1.0"/>
<text x="451.68" y="175.20" font-size="4.9" text-anchor="middle" style="stroke-width:0.2px">20</text>
<line x1="459.42" y1="166.60" x2="459.42" y2="168.00" stroke="#1a1a1a" stroke-width="1.0"/>
<line x1="467.17" y1="166.60" x2="467.17" y2="168.00" stroke="#1a1a1a" stroke-width="1.0"/>
<line x1="474.91" y1="166.60" x2="474.91" y2="168.00" stroke="#1a1a1a" stroke-width="1.0"/>
<line x1="482.66" y1="166.60" x2="482.66" y2="168.00" stroke="#1a1a1a" stroke-width="1.0"/>
<line x1="490.40" y1="166.60" x2="490.40" y2="169.00" stroke="#1a1a1a" stroke-width="1.0"/>
<text x="490.40" y="175.20" font-size="4.9" text-anchor="middle" style="stroke-width:0.2px">25</text>
<text x="275.80" y="89.40" font-size="5.2" text-anchor="middle" font-weight="bold" textLength="28.4" lengthAdjust="spacingAndGlyphs" transform="rotate(-90 275.80 89.40)" style="stroke-width:0.22px">Acetate (<tspan font-style="italic">M</tspan>)</text>
<text x="516.10" y="89.90" font-size="5.2" text-anchor="middle" font-weight="bold" textLength="61.2" lengthAdjust="spacingAndGlyphs" transform="rotate(90 516.10 89.90)" style="stroke-width:0.22px">Propionate - Butyrate (<tspan font-style="italic">M</tspan>)</text>
<text x="393.70" y="182.80" font-size="5.2" text-anchor="middle" font-weight="bold" textLength="21.5" lengthAdjust="spacingAndGlyphs" style="stroke-width:0.15px">Time (<tspan font-style="italic">d</tspan> )</text>
<path d="M296.8,105.1 L298.8,104.3 L300.8,103.4 L302.8,102.5 L304.8,101.6 L306.8,100.8 L308.8,99.9 L310.8,99.0 L312.8,98.1 L314.7,97.2 L316.7,96.3 L318.7,95.4 L320.7,94.6 L322.7,93.7 L324.7,92.8 L326.7,91.9 L328.7,91.0 L330.7,90.1 L332.7,89.2 L334.7,88.4 L336.7,87.5 L338.7,86.6 L340.7,85.7 L342.7,84.9 L344.7,84.0 L346.7,83.1 L348.7,82.3 L350.6,81.4 L352.6,80.5 L354.6,79.7 L356.6,78.8 L358.6,78.0 L360.6,77.2 L362.6,76.3 L364.6,75.5 L366.6,74.7 L368.6,73.9 L370.6,73.1 L372.6,72.3 L374.6,71.5 L376.6,70.7 L378.6,69.9 L380.6,69.1 L382.6,68.4 L384.6,67.6 L386.5,66.9 L388.5,66.1 L390.5,65.4 L392.5,64.7 L394.5,64.0 L396.5,63.3 L398.5,62.6 L400.5,61.9 L402.5,61.3 L404.5,60.6 L406.5,60.0 L408.5,59.3 L410.5,58.7 L412.5,58.1 L414.5,57.5 L416.5,56.9 L418.5,56.4 L420.5,55.8 L422.4,55.3 L424.4,54.7 L426.4,54.2 L428.4,53.7 L430.4,53.2 L432.4,52.8 L434.4,52.3 L436.4,51.9 L438.4,51.4 L440.4,51.0 L442.4,50.6 L444.4,50.3 L446.4,49.9 L448.4,49.6 L450.4,49.2 L452.4,48.9 L454.4,48.6 L456.4,48.4 L458.3,48.1 L460.3,47.9 L462.3,47.7 L464.3,47.5 L466.3,47.3 L468.3,47.1 L470.3,47.0 L472.3,46.9 L474.3,46.8" fill="none" stroke="#ec98ec" stroke-width="0.9" stroke-dasharray="1.05 0.95"/>
<path d="M296.8,139.4 L298.8,138.6 L300.8,137.8 L302.8,137.0 L304.8,136.3 L306.8,135.5 L308.8,134.8 L310.8,134.1 L312.8,133.4 L314.7,132.8 L316.7,132.1 L318.7,131.5 L320.7,130.9 L322.7,130.3 L324.7,129.7 L326.7,129.1 L328.7,128.5 L330.7,127.9 L332.7,127.4 L334.7,126.8 L336.7,126.2 L338.7,125.7 L340.7,125.1 L342.7,124.6 L344.7,124.0 L346.7,123.5 L348.7,122.9 L350.6,122.3 L352.6,121.7 L354.6,121.2 L356.6,120.6 L358.6,120.0 L360.6,119.3 L362.6,118.7 L364.6,118.1 L366.6,117.4 L368.6,116.7 L370.6,116.0 L372.6,115.3 L374.6,114.6 L376.6,113.8 L378.6,113.1 L380.6,112.3 L382.6,111.4 L384.6,110.6 L386.5,109.7 L388.5,108.8 L390.5,107.8 L392.5,106.9 L394.5,105.9 L396.5,104.9 L398.5,103.8 L400.5,102.8 L402.5,101.7 L404.5,100.6 L406.5,99.5 L408.5,98.4 L410.5,97.2 L412.5,96.1 L414.5,94.9 L416.5,93.7 L418.5,92.5 L420.5,91.3 L422.4,90.1 L424.4,88.8 L426.4,87.5 L428.4,86.2 L430.4,84.9 L432.4,83.5 L434.4,82.1 L436.4,80.7 L438.4,79.2 L440.4,77.7 L442.4,76.2 L444.4,74.6 L446.4,72.9 L448.4,71.2 L450.4,69.4 L452.4,67.5 L454.4,65.6 L456.4,63.6 L458.3,61.5 L460.3,59.2 L462.3,56.9 L464.3,54.5 L466.3,51.9 L468.3,49.3 L470.3,46.5 L472.3,43.5 L474.3,40.4" fill="none" stroke="#ec98ec" stroke-width="0.9" stroke-dasharray="1.05 0.95"/>
<path d="M296.8,110.9 L298.8,111.5 L300.8,112.0 L302.8,112.5 L304.8,113.0 L306.8,113.4 L308.8,113.8 L310.8,114.2 L312.8,114.5 L314.7,114.8 L316.7,115.1 L318.7,115.3 L320.7,115.5 L322.7,115.7 L324.7,115.9 L326.7,116.0 L328.7,116.1 L330.7,116.2 L332.7,116.2 L334.7,116.3 L336.7,116.3 L338.7,116.3 L340.7,116.2 L342.7,116.1 L344.7,116.1 L346.7,116.0 L348.7,115.8 L350.6,115.7 L352.6,115.5 L354.6,115.4 L356.6,115.2 L358.6,115.0 L360.6,114.7 L362.6,114.5 L364.6,114.2 L366.6,114.0 L368.6,113.7 L370.6,113.4 L372.6,113.1 L374.6,112.8 L376.6,112.4 L378.6,112.1 L380.6,111.7 L382.6,111.4 L384.6,111.0 L386.5,110.7 L388.5,110.3 L390.5,109.9 L392.5,109.5 L394.5,109.1 L396.5,108.7 L398.5,108.3 L400.5,107.9 L402.5,107.5 L404.5,107.1 L406.5,106.7 L408.5,106.3 L410.5,105.9 L412.5,105.5 L414.5,105.1 L416.5,104.7 L418.5,104.4 L420.5,104.0 L422.4,103.6 L424.4,103.2 L426.4,102.9 L428.4,102.5 L430.4,102.1 L432.4,101.8 L434.4,101.5 L436.4,101.1 L438.4,100.8 L440.4,100.5 L442.4,100.2 L444.4,100.0 L446.4,99.7 L448.4,99.4 L450.4,99.2 L452.4,99.0 L454.4,98.8 L456.4,98.6 L458.3,98.4 L460.3,98.3 L462.3,98.2 L464.3,98.0 L466.3,97.9 L468.3,97.9 L470.3,97.8 L472.3,97.8 L474.3,97.8" fill="none" stroke="#9ae29a" stroke-width="0.9" stroke-dasharray="1.05 0.95"/>
<path d="M296.8,166.3 L298.8,165.9 L300.8,165.4 L302.8,165.0 L304.8,164.6 L306.8,164.2 L308.8,163.7 L310.8,163.3 L312.8,162.9 L314.7,162.4 L316.7,162.0 L318.7,161.6 L320.7,161.2 L322.7,160.7 L324.7,160.3 L326.7,159.9 L328.7,159.4 L330.7,159.0 L332.7,158.6 L334.7,158.2 L336.7,157.8 L338.7,157.3 L340.7,156.9 L342.7,156.5 L344.7,156.1 L346.7,155.7 L348.7,155.3 L350.6,154.9 L352.6,154.5 L354.6,154.2 L356.6,153.8 L358.6,153.4 L360.6,153.0 L362.6,152.7 L364.6,152.3 L366.6,152.0 L368.6,151.6 L370.6,151.3 L372.6,151.0 L374.6,150.7 L376.6,150.4 L378.6,150.1 L380.6,149.8 L382.6,149.5 L384.6,149.2 L386.5,149.0 L388.5,148.7 L390.5,148.5 L392.5,148.2 L394.5,148.0 L396.5,147.8 L398.5,147.6 L400.5,147.4 L402.5,147.2 L404.5,147.1 L406.5,146.9 L408.5,146.8 L410.5,146.6 L412.5,146.5 L414.5,146.4 L416.5,146.4 L418.5,146.3 L420.5,146.2 L422.4,146.2 L424.4,146.2 L426.4,146.1 L428.4,146.1 L430.4,146.2 L432.4,146.2 L434.4,146.2 L436.4,146.3 L438.4,146.4 L440.4,146.5 L442.4,146.6 L444.4,146.8 L446.4,146.9 L448.4,147.1 L450.4,147.3 L452.4,147.5 L454.4,147.7 L456.4,148.0 L458.3,148.2 L460.3,148.5 L462.3,148.8 L464.3,149.2 L466.3,149.5 L468.3,149.9 L470.3,150.3 L472.3,150.7 L474.3,151.1" fill="none" stroke="#9ae29a" stroke-width="0.9" stroke-dasharray="1.05 0.95"/>
<circle cx="296.80" cy="108.40" r="1.5" fill="#c400cc"/>
<circle cx="343.26" cy="107.80" r="1.5" fill="#c400cc"/>
<circle cx="474.91" cy="44.80" r="1.5" fill="#c400cc"/>
<polygon points="395.97,54.02 398.97,54.02 397.47,51.18" fill="#c400cc"/>
<polygon points="473.51,44.73 476.31,44.73 474.91,42.07" fill="#c400cc"/>
<circle cx="296.80" cy="139.70" r="1.4" fill="#c400cc"/>
<circle cx="343.26" cy="148.80" r="1.2" fill="#c400cc"/>
<circle cx="296.80" cy="111.40" r="1.5" fill="#12c812"/>
<circle cx="296.80" cy="152.00" r="1.3" fill="#12c812"/>
<circle cx="296.80" cy="166.60" r="1.5" fill="#12c812"/>
<rect x="342.06" y="145.60" width="2.4" height="2.4" fill="#12c812"/>
<polygon points="341.86,156.93 344.66,156.93 343.26,154.27" fill="#12c812"/>
<circle cx="343.26" cy="166.60" r="1.4" fill="#12c812"/>
<circle cx="397.47" cy="114.30" r="1.5" fill="#12c812"/>
<polygon points="396.07,147.93 398.87,147.93 397.47,145.27" fill="#12c812"/>
<circle cx="397.47" cy="166.60" r="1.4" fill="#12c812"/>
<circle cx="474.91" cy="96.20" r="1.6" fill="#12c812"/>
<polygon points="473.51,156.93 476.31,156.93 474.91,154.27" fill="#12c812"/>
<circle cx="474.91" cy="166.60" r="1.4" fill="#12c812"/>
<text x="390.00" y="197.80" font-size="6.2" text-anchor="middle" font-weight="bold" textLength="12.0" lengthAdjust="spacingAndGlyphs" style="stroke-width:0.3px">VFA</text>
<line x1="296.50" y1="206.00" x2="296.50" y2="364.80" stroke="#1c1c1c" stroke-width="1.45"/>
<line x1="492.10" y1="206.00" x2="492.10" y2="366.50" stroke="#1c1c1c" stroke-width="1.45"/>
<line x1="296.00" y1="364.30" x2="492.10" y2="364.30" stroke="#1c1c1c" stroke-width="1.45"/>
<line x1="293.50" y1="364.30" x2="296.50" y2="364.30" stroke="#1a1a1a" stroke-width="1.0"/>
<line x1="294.80" y1="348.52" x2="296.50" y2="348.52" stroke="#1a1a1a" stroke-width="1.0"/>
<line x1="293.50" y1="332.74" x2="296.50" y2="332.74" stroke="#1a1a1a" stroke-width="1.0"/>
<line x1="294.80" y1="316.96" x2="296.50" y2="316.96" stroke="#1a1a1a" stroke-width="1.0"/>
<line x1="293.50" y1="301.18" x2="296.50" y2="301.18" stroke="#1a1a1a" stroke-width="1.0"/>
<line x1="294.80" y1="285.40" x2="296.50" y2="285.40" stroke="#1a1a1a" stroke-width="1.0"/>
<line x1="293.50" y1="269.62" x2="296.50" y2="269.62" stroke="#1a1a1a" stroke-width="1.0"/>
<line x1="294.80" y1="253.84" x2="296.50" y2="253.84" stroke="#1a1a1a" stroke-width="1.0"/>
<line x1="293.50" y1="238.06" x2="296.50" y2="238.06" stroke="#1a1a1a" stroke-width="1.0"/>
<line x1="294.80" y1="222.28" x2="296.50" y2="222.28" stroke="#1a1a1a" stroke-width="1.0"/>
<line x1="293.50" y1="206.50" x2="296.50" y2="206.50" stroke="#1a1a1a" stroke-width="1.0"/>
<text x="292.60" y="366.40" font-size="4.6" text-anchor="end" style="fill:#1a1a1a;stroke:#1a1a1a;stroke-width:0.24px">0.0000</text>
<text x="292.60" y="334.84" font-size="4.6" text-anchor="end" style="fill:#1a1a1a;stroke:#1a1a1a;stroke-width:0.24px">0.0005</text>
<text x="292.60" y="303.28" font-size="4.6" text-anchor="end" style="fill:#1a1a1a;stroke:#1a1a1a;stroke-width:0.24px">0.0010</text>
<text x="292.60" y="271.72" font-size="4.6" text-anchor="end" style="fill:#1a1a1a;stroke:#1a1a1a;stroke-width:0.24px">0.0015</text>
<text x="292.60" y="240.16" font-size="4.6" text-anchor="end" style="fill:#1a1a1a;stroke:#1a1a1a;stroke-width:0.24px">0.0020</text>
<text x="292.60" y="208.60" font-size="4.6" text-anchor="end" style="fill:#1a1a1a;stroke:#1a1a1a;stroke-width:0.24px">0.0025</text>
<line x1="492.10" y1="364.30" x2="495.10" y2="364.30" stroke="#1a1a1a" stroke-width="1.0"/>
<line x1="492.10" y1="338.00" x2="493.80" y2="338.00" stroke="#1a1a1a" stroke-width="1.0"/>
<line x1="492.10" y1="311.70" x2="495.10" y2="311.70" stroke="#1a1a1a" stroke-width="1.0"/>
<line x1="492.10" y1="285.40" x2="493.80" y2="285.40" stroke="#1a1a1a" stroke-width="1.0"/>
<line x1="492.10" y1="259.10" x2="495.10" y2="259.10" stroke="#1a1a1a" stroke-width="1.0"/>
<line x1="492.10" y1="232.80" x2="493.80" y2="232.80" stroke="#1a1a1a" stroke-width="1.0"/>
<line x1="492.10" y1="206.50" x2="495.10" y2="206.50" stroke="#1a1a1a" stroke-width="1.0"/>
<text x="496.00" y="366.50" font-size="4.8" style="fill:#1a1a1a;stroke:#1a1a1a;stroke-width:0.24px">0.0000</text>
<text x="496.00" y="313.90" font-size="4.8" style="fill:#1a1a1a;stroke:#1a1a1a;stroke-width:0.24px">0.0005</text>
<text x="496.00" y="261.30" font-size="4.8" style="fill:#1a1a1a;stroke:#1a1a1a;stroke-width:0.24px">0.0010</text>
<text x="496.00" y="208.70" font-size="4.8" style="fill:#1a1a1a;stroke:#1a1a1a;stroke-width:0.24px">0.0015</text>
<line x1="296.50" y1="364.30" x2="296.50" y2="366.70" stroke="#1a1a1a" stroke-width="1.0"/>
<text x="296.50" y="372.90" font-size="4.9" text-anchor="middle" style="stroke-width:0.2px">0</text>
<line x1="304.32" y1="364.30" x2="304.32" y2="365.70" stroke="#1a1a1a" stroke-width="1.0"/>
<line x1="312.15" y1="364.30" x2="312.15" y2="365.70" stroke="#1a1a1a" stroke-width="1.0"/>
<line x1="319.97" y1="364.30" x2="319.97" y2="365.70" stroke="#1a1a1a" stroke-width="1.0"/>
<line x1="327.80" y1="364.30" x2="327.80" y2="365.70" stroke="#1a1a1a" stroke-width="1.0"/>
<line x1="335.62" y1="364.30" x2="335.62" y2="366.70" stroke="#1a1a1a" stroke-width="1.0"/>
<text x="335.62" y="372.90" font-size="4.9" text-anchor="middle" style="stroke-width:0.2px">5</text>
<line x1="343.44" y1="364.30" x2="343.44" y2="365.70" stroke="#1a1a1a" stroke-width="1.0"/>
<line x1="351.27" y1="364.30" x2="351.27" y2="365.70" stroke="#1a1a1a" stroke-width="1.0"/>
<line x1="359.09" y1="364.30" x2="359.09" y2="365.70" stroke="#1a1a1a" stroke-width="1.0"/>
<line x1="366.92" y1="364.30" x2="366.92" y2="365.70" stroke="#1a1a1a" stroke-width="1.0"/>
<line x1="374.74" y1="364.30" x2="374.74" y2="366.70" stroke="#1a1a1a" stroke-width="1.0"/>
<text x="374.74" y="372.90" font-size="4.9" text-anchor="middle" style="stroke-width:0.2px">10</text>
<line x1="382.56" y1="364.30" x2="382.56" y2="365.70" stroke="#1a1a1a" stroke-width="1.0"/>
<line x1="390.39" y1="364.30" x2="390.39" y2="365.70" stroke="#1a1a1a" stroke-width="1.0"/>
<line x1="398.21" y1="364.30" x2="398.21" y2="365.70" stroke="#1a1a1a" stroke-width="1.0"/>
<line x1="406.04" y1="364.30" x2="406.04" y2="365.70" stroke="#1a1a1a" stroke-width="1.0"/>
<line x1="413.86" y1="364.30" x2="413.86" y2="366.70" stroke="#1a1a1a" stroke-width="1.0"/>
<text x="413.86" y="372.90" font-size="4.9" text-anchor="middle" style="stroke-width:0.2px">15</text>
<line x1="421.68" y1="364.30" x2="421.68" y2="365.70" stroke="#1a1a1a" stroke-width="1.0"/>
<line x1="429.51" y1="364.30" x2="429.51" y2="365.70" stroke="#1a1a1a" stroke-width="1.0"/>
<line x1="437.33" y1="364.30" x2="437.33" y2="365.70" stroke="#1a1a1a" stroke-width="1.0"/>
<line x1="445.16" y1="364.30" x2="445.16" y2="365.70" stroke="#1a1a1a" stroke-width="1.0"/>
<line x1="452.98" y1="364.30" x2="452.98" y2="366.70" stroke="#1a1a1a" stroke-width="1.0"/>
<text x="452.98" y="372.90" font-size="4.9" text-anchor="middle" style="stroke-width:0.2px">20</text>
<line x1="460.80" y1="364.30" x2="460.80" y2="365.70" stroke="#1a1a1a" stroke-width="1.0"/>
<line x1="468.63" y1="364.30" x2="468.63" y2="365.70" stroke="#1a1a1a" stroke-width="1.0"/>
<line x1="476.45" y1="364.30" x2="476.45" y2="365.70" stroke="#1a1a1a" stroke-width="1.0"/>
<line x1="484.28" y1="364.30" x2="484.28" y2="365.70" stroke="#1a1a1a" stroke-width="1.0"/>
<line x1="492.10" y1="364.30" x2="492.10" y2="366.70" stroke="#1a1a1a" stroke-width="1.0"/>
<text x="492.10" y="372.90" font-size="4.9" text-anchor="middle" style="stroke-width:0.2px">25</text>
<text x="274.60" y="284.50" font-size="5.2" text-anchor="middle" font-weight="bold" textLength="28.9" lengthAdjust="spacingAndGlyphs" transform="rotate(-90 274.60 284.50)" style="stroke-width:0.22px">Acetate (<tspan font-style="italic">M</tspan>)</text>
<text x="516.00" y="285.10" font-size="5.2" text-anchor="middle" font-weight="bold" textLength="65.8" lengthAdjust="spacingAndGlyphs" transform="rotate(90 516.00 285.10)" style="stroke-width:0.22px">Propionate - Butyrate (<tspan font-style="italic">M</tspan>)</text>
<text x="394.40" y="381.20" font-size="5.2" text-anchor="middle" font-weight="bold" textLength="21.5" lengthAdjust="spacingAndGlyphs" style="stroke-width:0.15px">Time (<tspan font-style="italic">d</tspan> )</text>
<path d="M296.6,342.3 L297.9,339.8 L299.2,336.9 L300.5,333.6 L301.8,330.1 L303.1,326.3 L304.3,322.2 L305.6,317.9 L306.9,313.4 L308.2,308.7 L309.5,304.1 L310.8,299.5 L312.1,295.0 L313.4,290.8 L314.7,287.0 L316.0,283.4 L317.3,280.2 L318.6,277.2 L319.8,274.4 L321.1,271.9 L322.4,269.5 L323.7,267.2 L325.0,265.1 L326.3,263.1 L327.6,261.1 L328.9,259.1 L330.2,257.1 L331.5,255.2 L332.8,253.3 L334.0,251.5 L335.3,249.8 L336.6,248.2 L337.9,246.7 L339.2,245.3 L340.5,244.0 L341.8,242.8 L343.1,241.7 L344.4,240.8 L345.7,239.9 L347.0,239.1 L348.3,238.4 L349.5,237.8 L350.8,237.3 L352.1,236.9 L353.4,236.5 L354.7,236.2 L356.0,236.1 L357.3,235.9 L358.6,235.9 L359.9,235.9 L361.2,236.0 L362.5,236.2 L363.8,236.4 L365.0,236.7 L366.3,237.0 L367.6,237.4 L368.9,237.8 L370.2,238.3 L371.5,238.9 L372.8,239.4 L374.1,240.1 L375.4,240.7 L376.7,241.4 L378.0,242.2 L379.2,242.9 L380.5,243.7 L381.8,244.6 L383.1,245.4 L384.4,246.3 L385.7,247.2 L387.0,248.1 L388.3,249.1 L389.6,250.1 L390.9,251.1 L392.2,252.1 L393.5,253.2 L394.7,254.2 L396.0,255.3 L397.3,256.4 L398.6,257.5 L399.9,258.7 L401.2,259.8 L402.5,261.0 L403.8,262.2 L405.1,263.4 L406.4,264.6 L407.7,265.8 L408.9,267.0 L410.2,268.2 L411.5,269.5 L412.8,270.7 L414.1,271.9 L415.4,273.2 L416.7,274.4 L418.0,275.6 L419.3,276.8 L420.6,278.0 L421.9,279.1 L423.2,280.2 L424.4,281.3 L425.7,282.3 L427.0,283.4 L428.3,284.3 L429.6,285.2 L430.9,286.1 L432.2,286.9 L433.5,287.7 L434.8,288.4 L436.1,289.1 L437.4,289.8 L438.7,290.4 L439.9,291.0 L441.2,291.5 L442.5,292.1 L443.8,292.6 L445.1,293.1 L446.4,293.6 L447.7,294.0 L449.0,294.5 L450.3,294.9 L451.6,295.3 L452.9,295.8 L454.1,296.2 L455.4,296.6 L456.7,297.1 L458.0,297.5 L459.3,298.0 L460.6,298.5 L461.9,298.9 L463.2,299.3 L464.5,299.6 L465.8,299.6 L467.1,299.5 L468.4,299.3 L469.6,298.9 L470.9,298.4 L472.2,297.8 L473.5,297.2 L474.8,296.5 L476.1,295.8" fill="none" stroke="#ffa0a0" stroke-width="0.9" stroke-dasharray="1.05 0.95"/>
<path d="M296.8,356.9 L298.1,354.0 L299.4,351.3 L300.7,348.7 L302.0,346.2 L303.2,343.7 L304.5,341.4 L305.8,339.1 L307.1,336.8 L308.4,334.6 L309.7,332.3 L311.0,330.1 L312.3,327.8 L313.6,325.5 L314.9,323.1 L316.1,320.6 L317.4,318.1 L318.7,315.4 L320.0,312.7 L321.3,309.9 L322.6,307.0 L323.9,304.1 L325.2,301.2 L326.5,298.3 L327.8,295.5 L329.0,292.9 L330.3,290.3 L331.6,288.0 L332.9,285.8 L334.2,283.7 L335.5,281.7 L336.8,279.9 L338.1,278.1 L339.4,276.4 L340.7,274.8 L341.9,273.2 L343.2,271.8 L344.5,270.4 L345.8,269.1 L347.1,267.8 L348.4,266.6 L349.7,265.5 L351.0,264.4 L352.3,263.4 L353.6,262.5 L354.8,261.6 L356.1,260.7 L357.4,259.9 L358.7,259.2 L360.0,258.5 L361.3,257.8 L362.6,257.2 L363.9,256.6 L365.2,256.1 L366.5,255.5 L367.7,255.1 L369.0,254.6 L370.3,254.2 L371.6,253.8 L372.9,253.4 L374.2,253.1 L375.5,252.8 L376.8,252.4 L378.1,252.1 L379.4,251.9 L380.6,251.6 L381.9,251.3 L383.2,251.1 L384.5,250.9 L385.8,250.6 L387.1,250.4 L388.4,250.2 L389.7,250.0 L391.0,249.9 L392.3,249.7 L393.5,249.6 L394.8,249.4 L396.1,249.3 L397.4,249.1 L398.7,249.0 L400.0,248.9 L401.3,248.8 L402.6,248.7 L403.9,248.6 L405.2,248.5 L406.4,248.4 L407.7,248.3 L409.0,248.3 L410.3,248.2 L411.6,248.1 L412.9,248.0 L414.2,248.0 L415.5,247.9 L416.8,247.8 L418.1,247.7 L419.3,247.7 L420.6,247.6 L421.9,247.5 L423.2,247.5 L424.5,247.4 L425.8,247.3 L427.1,247.2 L428.4,247.1 L429.7,247.0 L431.0,246.9 L432.2,246.8 L433.5,246.7 L434.8,246.6 L436.1,246.4 L437.4,246.3 L438.7,246.1 L440.0,245.9 L441.3,245.7 L442.6,245.5 L443.9,245.3 L445.1,245.0 L446.4,244.7 L447.7,244.4 L449.0,244.1 L450.3,243.7 L451.6,243.3 L452.9,242.8 L454.2,242.4 L455.5,241.9 L456.8,241.3 L458.0,240.7 L459.3,240.1 L460.6,239.4 L461.9,238.7 L463.2,238.0 L464.5,237.2 L465.8,236.3 L467.1,235.4 L468.4,234.4 L469.7,233.4 L470.9,232.3 L472.2,231.2 L473.5,230.0 L474.8,228.8 L476.1,227.5" fill="none" stroke="#ffa0a0" stroke-width="0.9" stroke-dasharray="1.05 0.95"/>
<path d="M296.8,358.5 L298.1,357.1 L299.4,355.8 L300.7,354.4 L302.0,353.0 L303.2,351.5 L304.5,350.1 L305.8,348.6 L307.1,347.2 L308.4,345.7 L309.7,344.2 L311.0,342.7 L312.3,341.2 L313.6,339.7 L314.9,338.1 L316.1,336.6 L317.4,335.0 L318.7,333.5 L320.0,331.9 L321.3,330.3 L322.6,328.7 L323.9,327.1 L325.2,325.5 L326.5,323.9 L327.8,322.3 L329.0,320.7 L330.3,319.0 L331.6,317.4 L332.9,315.8 L334.2,314.1 L335.5,312.5 L336.8,310.8 L338.1,309.2 L339.4,307.6 L340.7,305.9 L341.9,304.3 L343.2,302.6 L344.5,301.0 L345.8,299.3 L347.1,297.7 L348.4,296.1 L349.7,294.4 L351.0,292.8 L352.3,291.2 L353.6,289.5 L354.8,287.9 L356.1,286.3 L357.4,284.7 L358.7,283.1 L360.0,281.5 L361.3,279.9 L362.6,278.4 L363.9,276.8 L365.2,275.2 L366.5,273.7 L367.7,272.1 L369.0,270.6 L370.3,269.1 L371.6,267.6 L372.9,266.1 L374.2,264.6 L375.5,263.2 L376.8,261.7 L378.1,260.3 L379.4,258.9 L380.6,257.5 L381.9,256.1 L383.2,254.7 L384.5,253.4 L385.8,252.0 L387.1,250.7 L388.4,249.5 L389.7,248.2 L391.0,247.0 L392.3,245.8 L393.5,244.6 L394.8,243.4 L396.1,242.3 L397.4,241.2 L398.7,240.1 L400.0,239.1 L401.3,238.0 L402.6,237.0 L403.9,236.1 L405.2,235.2 L406.4,234.3 L407.7,233.4 L409.0,232.6 L410.3,231.8 L411.6,231.1 L412.9,230.3 L414.2,229.7 L415.5,229.0 L416.8,228.4 L418.1,227.9 L419.3,227.4 L420.6,226.9 L421.9,226.5 L423.2,226.1 L424.5,225.8 L425.8,225.5 L427.1,225.3 L428.4,225.1 L429.7,224.9 L431.0,224.9 L432.2,224.8 L433.5,224.8 L434.8,224.9 L436.1,225.0 L437.4,225.2 L438.7,225.4 L440.0,225.7 L441.3,226.0 L442.6,226.5 L443.9,226.9 L445.1,227.4 L446.4,228.0 L447.7,228.7 L449.0,229.4 L450.3,230.1 L451.6,231.0 L452.9,231.9 L454.2,232.8 L455.5,233.9 L456.8,235.0 L458.0,236.2 L459.3,237.4 L460.6,238.7 L461.9,240.1 L463.2,241.5 L464.5,243.1 L465.8,244.7 L467.1,246.4 L468.4,248.1 L469.7,249.9 L470.9,251.9 L472.2,253.8 L473.5,255.9 L474.8,258.1 L476.1,260.3" fill="none" stroke="#a0a0ff" stroke-width="0.9" stroke-dasharray="1.05 0.95"/>
<path d="M296.8,360.1 L298.1,357.9 L299.4,355.8 L300.7,353.7 L302.0,351.6 L303.2,349.6 L304.5,347.6 L305.8,345.6 L307.1,343.7 L308.4,341.8 L309.7,339.9 L311.0,338.1 L312.3,336.3 L313.6,334.5 L314.9,332.8 L316.1,331.0 L317.4,329.4 L318.7,327.7 L320.0,326.1 L321.3,324.5 L322.6,323.0 L323.9,321.5 L325.2,320.0 L326.5,318.5 L327.8,317.1 L329.0,315.7 L330.3,314.3 L331.6,312.9 L332.9,311.6 L334.2,310.3 L335.5,309.1 L336.8,307.8 L338.1,306.6 L339.4,305.4 L340.7,304.2 L341.9,303.1 L343.2,302.0 L344.5,300.9 L345.8,299.8 L347.1,298.8 L348.4,297.8 L349.7,296.8 L351.0,295.8 L352.3,294.9 L353.6,294.0 L354.8,293.1 L356.1,292.2 L357.4,291.3 L358.7,290.5 L360.0,289.7 L361.3,288.9 L362.6,288.1 L363.9,287.3 L365.2,286.6 L366.5,285.9 L367.7,285.2 L369.0,284.5 L370.3,283.9 L371.6,283.2 L372.9,282.6 L374.2,282.0 L375.5,281.4 L376.8,280.8 L378.1,280.3 L379.4,279.7 L380.6,279.2 L381.9,278.7 L383.2,278.2 L384.5,277.7 L385.8,277.2 L387.1,276.8 L388.4,276.3 L389.7,275.9 L391.0,275.5 L392.3,275.1 L393.5,274.7 L394.8,274.3 L396.1,274.0 L397.4,273.6 L398.7,273.3 L400.0,272.9 L401.3,272.6 L402.6,272.3 L403.9,272.0 L405.2,271.7 L406.4,271.4 L407.7,271.2 L409.0,270.9 L410.3,270.7 L411.6,270.4 L412.9,270.2 L414.2,269.9 L415.5,269.7 L416.8,269.5 L418.1,269.3 L419.3,269.1 L420.6,268.9 L421.9,268.7 L423.2,268.5 L424.5,268.3 L425.8,268.1 L427.1,267.9 L428.4,267.8 L429.7,267.6 L431.0,267.4 L432.2,267.3 L433.5,267.1 L434.8,267.0 L436.1,266.8 L437.4,266.6 L438.7,266.5 L440.0,266.3 L441.3,266.2 L442.6,266.0 L443.9,265.9 L445.1,265.7 L446.4,265.6 L447.7,265.4 L449.0,265.3 L450.3,265.1 L451.6,264.9 L452.9,264.8 L454.2,264.6 L455.5,264.4 L456.8,264.3 L458.0,264.1 L459.3,263.9 L460.6,263.7 L461.9,263.5 L463.2,263.3 L464.5,263.1 L465.8,262.9 L467.1,262.7 L468.4,262.5 L469.7,262.3 L470.9,262.0 L472.2,261.8 L473.5,261.6 L474.8,261.3 L476.1,261.0" fill="none" stroke="#a0a0ff" stroke-width="0.9" stroke-dasharray="1.05 0.95"/>
<circle cx="296.50" cy="341.90" r="1.5" fill="#ff0000"/>
<circle cx="296.50" cy="351.10" r="1.5" fill="#0000ff"/>
<polygon points="295.10,360.43 297.90,360.43 296.50,357.77" fill="#0000ff"/>
<circle cx="296.50" cy="361.60" r="1.3" fill="#ff0000"/>
<polygon points="296.50,362.60 298.20,364.30 296.50,366.00 294.80,364.30" fill="#0000ff"/>
<circle cx="343.44" cy="237.30" r="1.5" fill="#ff0000"/>
<polygon points="342.04,274.53 344.84,274.53 343.44,271.87" fill="#ff0000"/>
<polygon points="342.04,282.43 344.84,282.43 343.44,279.77" fill="#0000ff"/>
<circle cx="343.44" cy="315.20" r="1.5" fill="#0000ff"/>
<circle cx="343.44" cy="364.30" r="1.4" fill="#0000ff"/>
<circle cx="398.21" cy="232.60" r="1.5" fill="#ff0000"/>
<circle cx="398.21" cy="231.30" r="1.5" fill="#0000ff"/>
<polygon points="396.81,271.93 399.61,271.93 398.21,269.27" fill="#0000ff"/>
<circle cx="398.21" cy="296.50" r="1.5" fill="#ff0000"/>
<circle cx="398.21" cy="364.30" r="1.4" fill="#0000ff"/>
<polygon points="475.05,236.83 477.85,236.83 476.45,234.17" fill="#ff0000"/>
<polygon points="475.05,253.13 477.85,253.13 476.45,250.47" fill="#0000ff"/>
<circle cx="476.45" cy="266.70" r="1.5" fill="#0000ff"/>
<circle cx="476.45" cy="300.50" r="1.5" fill="#ff0000"/>
<circle cx="476.45" cy="364.30" r="1.4" fill="#0000ff"/>
<polygon points="6.80,412.20 10.60,412.20 8.70,408.00" fill="#12c812"/>
<text x="16.80" y="411.60" font-size="5.6" textLength="22.2" lengthAdjust="spacingAndGlyphs" style="fill:#222;stroke:#222;stroke-width:0.2px">R2 Glu P</text>
<polygon points="58.60,411.83 61.40,411.83 60.00,409.17" fill="#0000ff"/>
<text x="67.70" y="411.90" font-size="5.6" textLength="33.4" lengthAdjust="spacingAndGlyphs" style="fill:#222;stroke:#222;stroke-width:0.2px">R2 H2 10% P</text>
<polygon points="126.50,408.00 128.10,409.60 126.50,411.20 124.90,409.60" fill="#ff0000"/>
<text x="134.20" y="411.50" font-size="5.6" textLength="33.4" lengthAdjust="spacingAndGlyphs" style="fill:#222;stroke:#222;stroke-width:0.2px">R2 H2 50% P</text>
<circle cx="195.40" cy="409.50" r="1.3" fill="#9e00e6"/>
<text x="203.00" y="411.50" font-size="5.6" textLength="24.7" lengthAdjust="spacingAndGlyphs" style="fill:#222;stroke:#222;stroke-width:0.2px">R2 CH4 P</text>
<polygon points="1.70,421.20 3.30,418.30 6.50,418.30 8.10,421.20 6.50,424.10 3.30,424.10" fill="#fff" stroke="#666" stroke-width="1.0"/>
<polygon points="10.90,421.10 12.65,418.00 16.15,418.00 17.90,421.10 16.15,424.20 12.65,424.20" fill="#000"/>
<text x="20.20" y="423.20" font-size="6.0" textLength="24.2" lengthAdjust="spacingAndGlyphs" style="fill:#333;stroke:#333;stroke-width:0.22px">R2 – CH<tspan font-size="3.9" dy="1.2">4</tspan></text>
<polygon points="53.85,418.60 58.75,418.60 56.30,423.50" fill="#fff" stroke="#4a5570" stroke-width="1.0" stroke-linejoin="round"/>
<polygon points="61.90,418.20 67.10,418.20 64.50,423.60" fill="#000"/>
<text x="70.00" y="423.30" font-size="6.0" textLength="25.8" lengthAdjust="spacingAndGlyphs" style="fill:#333;stroke:#333;stroke-width:0.22px">R2 – CO<tspan font-size="3.9" dy="1.2">2</tspan></text>
<circle cx="123.40" cy="421.50" r="2.4" fill="#fff" stroke="#333" stroke-width="0.9"/>
<circle cx="130.90" cy="421.50" r="2.85" fill="#000"/>
<text x="135.80" y="423.50" font-size="6.0" textLength="24.6" lengthAdjust="spacingAndGlyphs" style="fill:#333;stroke:#333;stroke-width:0.22px">R2 – H<tspan font-size="3.9" dy="1.2">2</tspan><tspan dy="-1.2">S</tspan></text>
<rect x="188.80" y="418.60" width="4.8" height="4.8" fill="#fff" stroke="#111" stroke-width="1.1"/>
<rect x="197.70" y="418.50" width="5.2" height="5.2" fill="#000"/>
<text x="207.70" y="423.50" font-size="6.0" textLength="20.0" lengthAdjust="spacingAndGlyphs" style="fill:#333;stroke:#333;stroke-width:0.22px">R2 – H<tspan font-size="3.9" dy="1.2">2</tspan></text>
<rect x="3.4" y="430.3" width="12.5" height="4.4" fill="#00b050"/>
<text x="18.80" y="434.40" font-size="6.5" textLength="21.3" lengthAdjust="spacingAndGlyphs" style="fill:#333;stroke:#333;stroke-width:0.22px">Glu test</text>
<rect x="54.3" y="430.5" width="12.6" height="4.2" fill="#7030a0"/>
<text x="69.70" y="434.40" font-size="6.5" textLength="22.6" lengthAdjust="spacingAndGlyphs" style="fill:#333;stroke:#333;stroke-width:0.22px">CH<tspan font-size="4.3" dy="1">4</tspan><tspan dy="-1"> test</tspan></text>
<rect x="121.5" y="430.1" width="12.7" height="4.5" fill="#0a14b4"/>
<text x="137.00" y="434.40" font-size="6.5" textLength="31.8" lengthAdjust="spacingAndGlyphs" style="fill:#333;stroke:#333;stroke-width:0.22px">H<tspan font-size="4.3" dy="1">2</tspan><tspan dy="-1"> 10% test</tspan></text>
<rect x="190.5" y="430.3" width="12.3" height="4.6" fill="#ff0000"/>
<text x="205.80" y="434.40" font-size="6.5" textLength="32.4" lengthAdjust="spacingAndGlyphs" style="fill:#333;stroke:#333;stroke-width:0.22px">H<tspan font-size="4.3" dy="1">2</tspan><tspan dy="-1"> 50% test</tspan></text>
<rect x="275.4" y="407.1" width="12.7" height="5.5" fill="#00b050"/>
<text x="290.80" y="412.10" font-size="6.5" textLength="21.5" lengthAdjust="spacingAndGlyphs" style="fill:#333;stroke:#333;stroke-width:0.22px">Glu test</text>
<rect x="330.3" y="407.1" width="12.8" height="5.5" fill="#7030a0"/>
<text x="346.20" y="412.10" font-size="6.5" textLength="22.7" lengthAdjust="spacingAndGlyphs" style="fill:#333;stroke:#333;stroke-width:0.22px">CH<tspan font-size="4.3" dy="1">4</tspan><tspan dy="-1"> test</tspan></text>
<rect x="394.1" y="406.9" width="12.8" height="5.5" fill="#0a14b4"/>
<text x="409.80" y="412.10" font-size="6.5" textLength="31.6" lengthAdjust="spacingAndGlyphs" style="fill:#333;stroke:#333;stroke-width:0.22px">H<tspan font-size="4.3" dy="1">2</tspan><tspan dy="-1"> 10% test</tspan></text>
<rect x="463.3" y="407.1" width="12.9" height="5.6" fill="#ff0000"/>
<text x="478.70" y="412.10" font-size="6.5" textLength="32.1" lengthAdjust="spacingAndGlyphs" style="fill:#333;stroke:#333;stroke-width:0.22px">H<tspan font-size="4.3" dy="1">2</tspan><tspan dy="-1"> 50% test</tspan></text>
<circle cx="302.60" cy="424.50" r="2.4" fill="#000"/>
<text x="309.20" y="426.50" font-size="6.5" textLength="20" lengthAdjust="spacingAndGlyphs" style="fill:#333;stroke:#333;stroke-width:0.22px">Acetate</text>
<polygon points="367.70,426.90 373.50,426.90 370.60,421.90" fill="#000"/>
<text x="376.20" y="426.40" font-size="6.5" textLength="29.2" lengthAdjust="spacingAndGlyphs" style="fill:#333;stroke:#333;stroke-width:0.22px">Propionate</text>
<polygon points="439.20,421.60 441.80,424.20 439.20,426.80 436.60,424.20" fill="#000"/>
<text x="445.00" y="426.30" font-size="6.5" textLength="22.7" lengthAdjust="spacingAndGlyphs" style="fill:#333;stroke:#333;stroke-width:0.22px">Butyrate</text>
</svg>
</body></html>
